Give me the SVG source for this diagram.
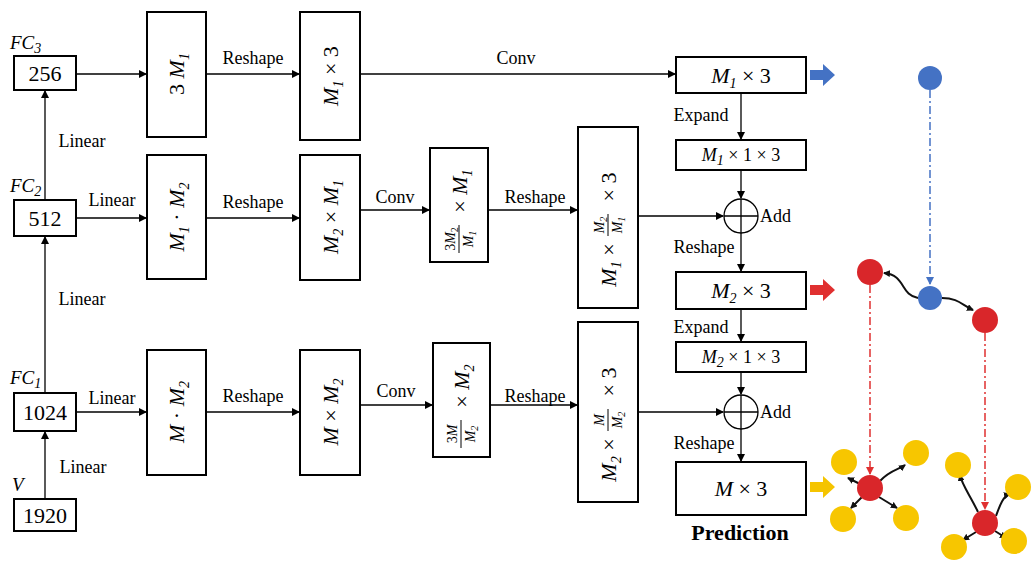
<svg xmlns="http://www.w3.org/2000/svg" width="1032" height="561" viewBox="0 0 1032 561" font-family="'Liberation Serif','DejaVu Serif',serif">
<defs>
<marker id="ah" markerWidth="8" markerHeight="8" refX="7" refY="4" orient="auto" markerUnits="userSpaceOnUse"><path d="M0,0 L8,4 L0,8 z" fill="#000"/></marker>
<marker id="ahb" markerWidth="8" markerHeight="8" refX="7" refY="4" orient="auto" markerUnits="userSpaceOnUse"><path d="M0,0 L8,4 L0,8 z" fill="#4472c4"/></marker>
<marker id="ahr" markerWidth="8" markerHeight="8" refX="7" refY="4" orient="auto" markerUnits="userSpaceOnUse"><path d="M0,0 L8,4 L0,8 z" fill="#e03030"/></marker>
<marker id="ahk" markerWidth="7" markerHeight="7" refX="6" refY="3.5" orient="auto" markerUnits="userSpaceOnUse"><path d="M0,0 L7,3.5 L0,7 z" fill="#111"/></marker>
</defs>
<style>
rect.b{fill:#fff;stroke:#000;stroke-width:2}
text{font-family:'Liberation Serif','DejaVu Serif',serif;fill:#000}
.l{font-size:18px}
.m{font-size:22px;font-style:italic}
.n{font-size:22px}
.s{font-size:14px}
.e{stroke:#000;stroke-width:1.3;fill:none;marker-end:url(#ah)}
.p{stroke:#000;stroke-width:1.3;fill:none}
.g{stroke:#111;stroke-width:2;fill:none;marker-end:url(#ahk)}
</style>
<rect width="1032" height="561" fill="#fff"/>
<g id="connectors">
<line class="e" x1="76" y1="74" x2="146" y2="74"/>
<line class="e" x1="206" y1="74" x2="299" y2="74"/>
<line class="e" x1="360" y1="74" x2="675" y2="74"/>
<line class="e" x1="76" y1="218" x2="146" y2="218"/>
<line class="e" x1="206" y1="218" x2="299" y2="218"/>
<line class="e" x1="360" y1="210" x2="429" y2="210"/>
<line class="e" x1="488" y1="210" x2="577" y2="210"/>
<line class="e" x1="638" y1="216" x2="723" y2="216"/>
<line class="e" x1="76" y1="412" x2="146" y2="412"/>
<line class="e" x1="206" y1="412" x2="299" y2="412"/>
<line class="e" x1="360" y1="405" x2="432" y2="405"/>
<line class="e" x1="490" y1="405" x2="577" y2="405"/>
<line class="e" x1="638" y1="412" x2="723" y2="412"/>
<line class="e" x1="45" y1="499" x2="45" y2="432"/>
<line class="e" x1="45" y1="393" x2="45" y2="237"/>
<line class="e" x1="45" y1="200" x2="45" y2="91"/>
<line class="e" x1="741" y1="93" x2="741" y2="139"/>
<line class="e" x1="741" y1="170" x2="741" y2="198"/>
<line class="e" x1="741" y1="233" x2="741" y2="271"/>
<line class="e" x1="741" y1="309" x2="741" y2="341"/>
<line class="e" x1="741" y1="372" x2="741" y2="394"/>
<line class="e" x1="741" y1="429" x2="741" y2="461"/>
<text class="l" x="253" y="64" text-anchor="middle">Reshape</text>
<text class="l" x="516" y="64" text-anchor="middle">Conv</text>
<text class="l" x="112" y="206" text-anchor="middle">Linear</text>
<text class="l" x="253" y="208" text-anchor="middle">Reshape</text>
<text class="l" x="395" y="203" text-anchor="middle">Conv</text>
<text class="l" x="535" y="203" text-anchor="middle">Reshape</text>
<text class="l" x="112" y="404" text-anchor="middle">Linear</text>
<text class="l" x="253" y="402" text-anchor="middle">Reshape</text>
<text class="l" x="396" y="397" text-anchor="middle">Conv</text>
<text class="l" x="535" y="402" text-anchor="middle">Reshape</text>
<text class="l" x="82" y="147" text-anchor="middle">Linear</text>
<text class="l" x="82" y="305" text-anchor="middle">Linear</text>
<text class="l" x="83" y="473" text-anchor="middle">Linear</text>
<text class="l" x="701" y="121" text-anchor="middle">Expand</text>
<text class="l" x="704" y="253" text-anchor="middle">Reshape</text>
<text class="l" x="701" y="333" text-anchor="middle">Expand</text>
<text class="l" x="704" y="449" text-anchor="middle">Reshape</text>
<text class="l" x="760" y="222">Add</text>
<text class="l" x="760" y="418">Add</text>
</g>
<g id="add1"><circle cx="741" cy="216" r="17" fill="#fff" stroke="#000" stroke-width="1.3"/><path class="p" d="M724,216 H758 M741,199 V233"/></g>
<g id="add2"><circle cx="741" cy="412" r="17" fill="#fff" stroke="#000" stroke-width="1.3"/><path class="p" d="M724,412 H758 M741,395 V429"/></g>
<g id="fc3"><text class="m" x="10" y="49" style="font-size:19px">FC<tspan class="s" dy="4">3</tspan></text><rect class="b" x="14" y="56" width="62" height="34"/><text class="n" x="45" y="81" text-anchor="middle">256</text></g>
<g id="fc2"><text class="m" x="10" y="192" style="font-size:19px">FC<tspan class="s" dy="4">2</tspan></text><rect class="b" x="14" y="200" width="62" height="36"/><text class="n" x="45" y="226" text-anchor="middle">512</text></g>
<g id="fc1"><text class="m" x="10" y="384" style="font-size:19px">FC<tspan class="s" dy="4">1</tspan></text><rect class="b" x="14" y="393" width="62" height="38"/><text class="n" x="45" y="420" text-anchor="middle">1024</text></g>
<g id="v"><text class="m" x="12" y="491" style="font-size:19px">V</text><rect class="b" x="14" y="499" width="62" height="32"/><text class="n" x="45" y="523" text-anchor="middle">1920</text></g>
<g id="b3m1"><rect class="b" x="147" y="12" width="59" height="125"/><text class="m" transform="translate(184,74) rotate(-90)" text-anchor="middle"><tspan font-style="normal">3 </tspan>M<tspan class="s" dy="5">1</tspan></text></g>
<g id="bm1m2"><rect class="b" x="147" y="155" width="59" height="124"/><text class="m" transform="translate(184,217) rotate(-90)" text-anchor="middle">M<tspan class="s" dy="5">1</tspan><tspan dy="-5" font-style="normal"> · </tspan>M<tspan class="s" dy="5">2</tspan></text></g>
<g id="bmm2"><rect class="b" x="147" y="350" width="59" height="125"/><text class="m" transform="translate(184,412) rotate(-90)" text-anchor="middle">M <tspan font-style="normal">· </tspan>M<tspan class="s" dy="5">2</tspan></text></g>
<g id="bm1x3"><rect class="b" x="300" y="12" width="60" height="128"/><text class="m" transform="translate(338,76) rotate(-90)" text-anchor="middle">M<tspan class="s" dy="5">1</tspan><tspan dy="-5" font-style="normal">  × 3</tspan></text></g>
<g id="bm2xm1"><rect class="b" x="300" y="155" width="60" height="125"/><text class="m" transform="translate(338,217) rotate(-90)" text-anchor="middle">M<tspan class="s" dy="5">2</tspan><tspan dy="-5" font-style="normal"> × </tspan>M<tspan class="s" dy="5">1</tspan></text></g>
<g id="bmxm2"><rect class="b" x="300" y="350" width="60" height="125"/><text class="m" transform="translate(338,412) rotate(-90)" text-anchor="middle">M<tspan font-style="normal"> × </tspan>M<tspan class="s" dy="5">2</tspan></text></g>
<g id="bconv1"><rect class="b" x="430" y="148" width="58" height="114"/><g transform="translate(459,205) rotate(-90)"><text class="s" x="-34" y="-4" text-anchor="middle">3<tspan font-style="italic">M</tspan><tspan font-size="10" dy="3">2</tspan></text><line x1="-48" y1="0" x2="-20" y2="0" stroke="#000"/><text class="s" x="-34" y="14" text-anchor="middle" font-style="italic">M<tspan font-size="10" dy="3">1</tspan></text><text class="m" x="14" y="8" text-anchor="middle"><tspan font-style="normal">× </tspan>M<tspan class="s" dy="5">1</tspan></text></g></g>
<g id="bconv2"><rect class="b" x="433" y="343" width="57" height="114"/><g transform="translate(461,400) rotate(-90)"><text class="s" x="-34" y="-4" text-anchor="middle">3<tspan font-style="italic">M</tspan></text><line x1="-48" y1="0" x2="-20" y2="0" stroke="#000"/><text class="s" x="-34" y="14" text-anchor="middle" font-style="italic">M<tspan font-size="10" dy="3">2</tspan></text><text class="m" x="14" y="8" text-anchor="middle"><tspan font-style="normal">× </tspan>M<tspan class="s" dy="5">2</tspan></text></g></g>
<g id="bres1"><rect class="b" x="578" y="127" width="60" height="181"/><g transform="translate(608,217) rotate(-90)"><text class="m" x="-48" y="8" text-anchor="middle">M<tspan class="s" dy="5">1</tspan><tspan dy="-5" font-style="normal"> ×</tspan></text><text class="s" x="-8" y="-4" text-anchor="middle" font-style="italic">M<tspan font-size="10" dy="3">2</tspan></text><line x1="-19" y1="0" x2="3" y2="0" stroke="#000"/><text class="s" x="-8" y="14" text-anchor="middle" font-style="italic">M<tspan font-size="10" dy="3">1</tspan></text><text class="n" x="30" y="8" text-anchor="middle">× 3</text></g></g>
<g id="bres2"><rect class="b" x="578" y="322" width="60" height="180"/><g transform="translate(608,412) rotate(-90)"><text class="m" x="-48" y="8" text-anchor="middle">M<tspan class="s" dy="5">2</tspan><tspan dy="-5" font-style="normal"> ×</tspan></text><text class="s" x="-8" y="-4" text-anchor="middle" font-style="italic">M</text><line x1="-19" y1="0" x2="3" y2="0" stroke="#000"/><text class="s" x="-8" y="14" text-anchor="middle" font-style="italic">M<tspan font-size="10" dy="3">2</tspan></text><text class="n" x="30" y="8" text-anchor="middle">× 3</text></g></g>
<g id="r1"><rect class="b" x="676" y="57" width="130" height="36"/><text class="m" x="741" y="83" text-anchor="middle">M<tspan class="s" dy="5">1</tspan><tspan dy="-5" font-style="normal">  × 3</tspan></text></g>
<g id="r2"><rect class="b" x="676" y="140" width="130" height="30"/><text class="m" x="741" y="161" text-anchor="middle" style="font-size:18px">M<tspan class="s" dy="4">1</tspan><tspan dy="-4" font-style="normal"> × 1 × 3</tspan></text></g>
<g id="r3"><rect class="b" x="676" y="272" width="130" height="37"/><text class="m" x="741" y="298" text-anchor="middle">M<tspan class="s" dy="5">2</tspan><tspan dy="-5" font-style="normal">  × 3</tspan></text></g>
<g id="r4"><rect class="b" x="676" y="342" width="130" height="30"/><text class="m" x="741" y="363" text-anchor="middle" style="font-size:18px">M<tspan class="s" dy="4">2</tspan><tspan dy="-4" font-style="normal"> × 1 × 3</tspan></text></g>
<g id="r5"><rect class="b" x="676" y="462" width="130" height="53"/><text class="m" x="741" y="496" text-anchor="middle">M<tspan font-style="normal"> × 3</tspan></text><text x="740" y="540" text-anchor="middle" font-weight="bold" font-size="22">Prediction</text></g>
<g id="fat">
<path d="M810,70 H823 V64 L835,75 L823,86 V80 H810 z" fill="#4472c4"/>
<path d="M810,285 H823 V279 L835,290 L823,301 V295 H810 z" fill="#e03030"/>
<path d="M810,482 H823 V476 L835,487 L823,498 V492 H810 z" fill="#f5c400"/>
</g>
<g id="graph">
<path d="M930,90 V284" stroke="#4472c4" stroke-width="1.5" stroke-dasharray="8,3,2,3" fill="none" marker-end="url(#ahb)"/>
<path d="M870,285 V474" stroke="#e03030" stroke-width="1.5" stroke-dasharray="8,3,2,3" fill="none" marker-end="url(#ahr)"/>
<path d="M985,333 V509" stroke="#e03030" stroke-width="1.5" stroke-dasharray="8,3,2,3" fill="none" marker-end="url(#ahr)"/>
<path class="g" d="M918,298 C900,295 906,275 884,273"/>
<path class="g" d="M942,298 C958,298 962,305 973,310"/>
<path class="g" d="M860,484 L848,478"/>
<path class="g" d="M880,481 C890,470 898,470 905,465"/>
<path class="g" d="M862,497 L851,508"/>
<path class="g" d="M879,497 L897,508"/>
<path class="g" d="M978,512 C970,495 962,485 960,475"/>
<path class="g" d="M996,516 C1000,505 1003,496 1010,494"/>
<path class="g" d="M976,532 L963,540"/>
<path class="g" d="M995,531 L1006,538"/>
<circle cx="930" cy="78" r="12" fill="#4472c4"/>
<circle cx="930" cy="298" r="12" fill="#4472c4"/>
<circle cx="870" cy="272" r="13" fill="#d9262a"/>
<circle cx="985" cy="320" r="13" fill="#d9262a"/>
<circle cx="870" cy="488" r="13" fill="#d9262a"/>
<circle cx="985" cy="523" r="13" fill="#d9262a"/>
<circle cx="844" cy="462" r="13" fill="#f7c600"/>
<circle cx="916" cy="453" r="13" fill="#f7c600"/>
<circle cx="843" cy="519" r="13" fill="#f7c600"/>
<circle cx="906" cy="518" r="13" fill="#f7c600"/>
<circle cx="958" cy="465" r="13" fill="#f7c600"/>
<circle cx="1018" cy="487" r="13" fill="#f7c600"/>
<circle cx="954" cy="547" r="13" fill="#f7c600"/>
<circle cx="1014" cy="541" r="13" fill="#f7c600"/>
</g>
</svg>
